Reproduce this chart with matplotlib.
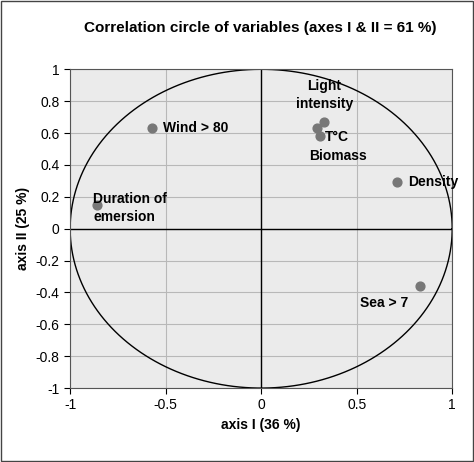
import numpy as np
import matplotlib.pyplot as plt

names = ["Wind > 80", "Duration of\nemersion", "Light\nintensity", "T°C", "Biomass", "Density", "Sea > 7"]
ax1 = [-0.57, -0.86, 0.33, 0.29, 0.31, 0.71, 0.83]
ax2 = [0.63, 0.15, 0.67, 0.63, 0.58, 0.29, -0.36]
# label offsets (points) and alignment
offs = [(8, 0, 'left', 'center'), (0, 0, 'left', 'center'), (0, 8, 'center', 'bottom'),
        (6, -6, 'left', 'center'), (-8, -14, 'left', 'center'), (8, 0, 'left', 'center'),
        (-8, -12, 'right', 'center')]

plt.rcParams['font.family'] = ['Liberation Sans', 'DejaVu Sans']
fig = plt.figure(figsize=(4.74, 4.62), dpi=100)
ax = fig.add_axes([0.148, 0.16, 0.806, 0.69])
ax.set_facecolor('#ebebeb')
ax.set_xlim(-1, 1)
ax.set_ylim(-1, 1)
ax.set_xticks([-1, -0.5, 0, 0.5, 1])
ax.set_xticklabels(['-1', '-0.5', '0', '0.5', '1'])
ax.set_yticks(np.round(np.arange(-1, 1.01, 0.2), 1))
ax.set_yticklabels(['-1', '-0.8', '-0.6', '-0.4', '-0.2', '0', '0.2', '0.4', '0.6', '0.8', '1'])
ax.grid(color='#b8b8b8', lw=0.8)
ax.set_axisbelow(True)
ax.tick_params(labelsize=10, length=4)
for s in ax.spines.values():
    s.set_color('#555555')
ax.axhline(0, color='black', lw=1)
ax.axvline(0, color='black', lw=1)
t = np.linspace(0, 2 * np.pi, 400)
ax.plot(np.cos(t), np.sin(t), color='black', lw=1)
ax.scatter(ax1, ax2, s=40, color='#777777', zorder=3)
for n, x, y, o in zip(names, ax1, ax2, offs):
    if n.startswith("Duration"):
        ax.text(-0.88, 0.13, n, fontsize=10, fontweight='bold', ha='left', va='center', linespacing=1.3)
        continue
    ax.annotate(n, (x, y), xytext=(o[0], o[1]), textcoords='offset points',
                ha=o[2], va=o[3], fontsize=10, fontweight='bold', linespacing=1.3)
ax.set_xlabel('axis I (36 %)', fontsize=10, fontweight='bold')
ax.set_ylabel('axis II (25 %)', fontsize=10, fontweight='bold')
fig.text(0.55, 0.94, 'Correlation circle of variables (axes I & II = 61 %)', ha='center',
         va='center', fontsize=11, fontweight='bold')
fig.add_artist(plt.Rectangle((0.003, 0.003), 0.994, 0.994, transform=fig.transFigure,
                             fill=False, edgecolor='#444444', lw=1))
fig.savefig('out.png')
